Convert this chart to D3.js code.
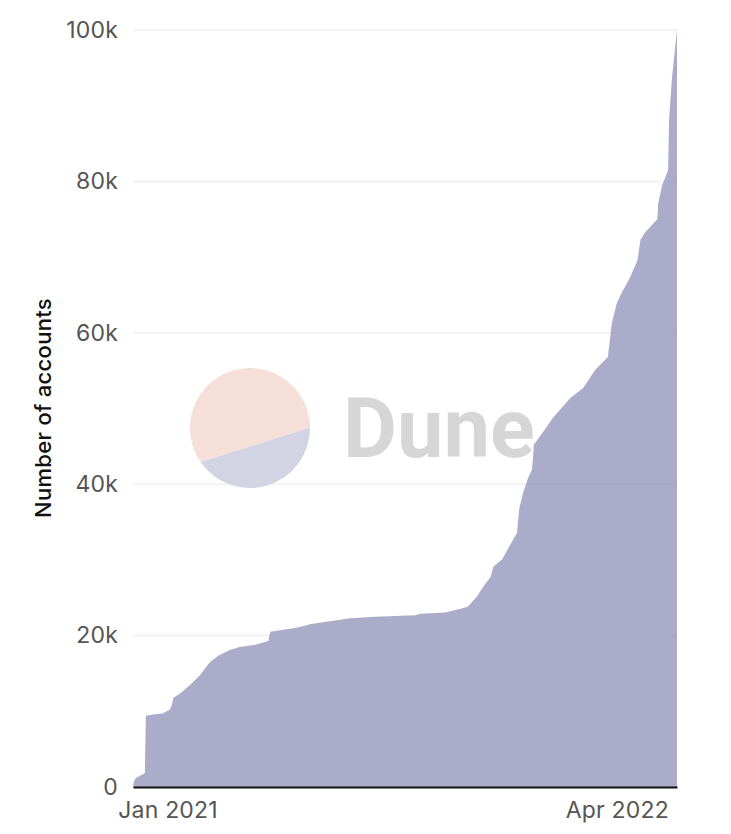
<!DOCTYPE html>
<html><head><meta charset="utf-8">
<script src="https://cdn.jsdelivr.net/npm/d3@7"></script>
<style>html,body{margin:0;background:#fff}svg{display:block}text{font-family:Inter,sans-serif}</style>
</head><body><svg id="c" width="731" height="834"></svg>
<script>
const startDate = new Date(2021, 0, 1);
const dayOffsets = [-35,-34,-32,-28,-23,-22,-13,-5,2,4,6,13,23,33,43,51,63,73,89,102,104,114,129,139,144,159,180,185,210,251,256,281,296,304,313,321,327,330,339,347,354,356,360,365,369,370,371,382,390,408,421,433,446,448,450,455,460,468,476,479,484,496,497,501,507,508,509,511,516];
const accounts = [0,0.8,1.2,1.5,1.8,9.4,9.6,9.7,10.2,10.7,11.8,12.4,13.5,14.8,16.5,17.3,18.1,18.5,18.8,19.3,20.5,20.7,21.0,21.3,21.5,21.8,22.2,22.3,22.5,22.7,22.9,23.05,23.5,23.8,25.1,26.7,27.7,29.1,30.1,32,33.6,36.6,38.8,40.8,41.9,43.2,45.2,47.2,48.7,51.4,52.7,55.1,56.8,59,61.3,63.9,65.3,67.2,69.6,72.3,73.3,75,77.1,79.5,81.5,88.1,90.1,93.8,100];
const yTicks = [0,20,40,60,80,100];
const xTickDates = [new Date(2021,0,1), new Date(2022,3,1)];
const xTickLabels = ["Jan 2021","Apr 2022"];
const yTitle = "Number of accounts";
const watermark = "Dune";

const dates = dayOffsets.map(d => d3.timeDay.offset(startDate, d));
const svg = d3.select("#c");
const x = d3.scaleTime().domain([dates[0], dates[dates.length-1]]).range([133,677]);
const y = d3.scaleLinear().domain([0,100]).range([787,30]);

// grid
svg.append("g").selectAll("line").data(yTicks.filter(t=>t>0)).join("line")
  .attr("x1",133).attr("x2",677).attr("y1",d=>y(d)).attr("y2",d=>y(d))
  .attr("stroke","#f2f2f2").attr("stroke-width",2);

// watermark
const wm = svg.append("g");
wm.append("path").attr("d","M200.5,462A60,60 0 1 1 310,427.5Z").attr("fill","#f6dfd9");
wm.append("path").attr("d","M200.5,462A60,60 0 0 0 310,427.5Z").attr("fill","#d3d4e3");
wm.append("text").attr("x",343).attr("y",457).attr("font-size",83).attr("font-weight",700)
  .style("font-family","Roboto").attr("fill","#d6d6d6").text(watermark);

// area
const idx = d3.range(dates.length);
svg.append("path").datum(idx)
  .attr("d", d3.area().x(i=>x(dates[i])).y0(y(0)).y1(i=>y(accounts[i])))
  .attr("fill","#8e90b8").attr("fill-opacity",0.75);

// axes
const yAxis = svg.append("g").attr("transform","translate(133,0)")
  .call(d3.axisLeft(y).tickValues(yTicks).tickSize(0).tickPadding(15).tickFormat(d=>d===0?"0":d+"k"));
yAxis.select(".domain").remove();
yAxis.selectAll("text").attr("font-size",23).attr("letter-spacing",0.2).attr("fill","#555").style("font-family","Inter");

const xAxis = svg.append("g").attr("transform","translate(0,787)")
  .call(d3.axisBottom(x).tickValues(xTickDates).tickSize(0).tickPadding(15).tickFormat((d,i)=>xTickLabels[i]));
xAxis.select(".domain").attr("stroke","#111").attr("stroke-width",2);
xAxis.selectAll("text").attr("font-size",23).attr("letter-spacing",0.2).attr("fill","#555").style("font-family","Inter");

svg.append("text").attr("transform","translate(51,408) rotate(-90)").attr("text-anchor","middle")
  .attr("font-size",22).attr("letter-spacing",0.3).attr("font-weight",500).attr("fill","#111").text(yTitle);
</script></body></html>
